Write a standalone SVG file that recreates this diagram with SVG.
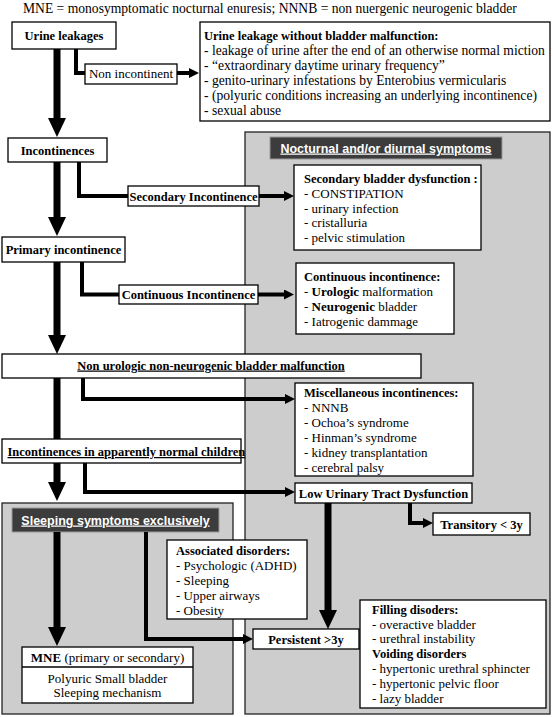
<svg xmlns="http://www.w3.org/2000/svg" width="553" height="717" viewBox="0 0 553 717">
<style>
.box{fill:#fff;stroke:#000;stroke-width:1.3}
.panel{fill:#cdcdcd;stroke:#222;stroke-width:1.3}
.hdr{fill:#3c3c3c;stroke:#999;stroke-width:1}
.b{font-family:"Liberation Serif","Times New Roman",serif;font-weight:bold;font-size:12.5px;fill:#000}
.t{font-family:"Liberation Serif","Times New Roman",serif;font-size:13px;fill:#000}
.tl{font-family:"Liberation Serif","Times New Roman",serif;font-size:13.6px;fill:#000}
.h{font-family:"Liberation Sans",Arial,sans-serif;font-weight:bold;font-size:12.5px;fill:#fff;text-decoration:underline}
.u{text-decoration:underline}
.c{text-anchor:middle}
.main{stroke:#000;stroke-width:7;fill:none}
.br{stroke:#000;stroke-width:4;fill:none;stroke-linejoin:miter}
</style>
<defs>
<marker id="big" markerUnits="userSpaceOnUse" markerWidth="19" markerHeight="18" viewBox="0 0 19 18" refX="0" refY="9" orient="auto">
<path d="M0,0 L19,9 L0,18 Z" fill="#000"/>
</marker>
<marker id="small" markerUnits="userSpaceOnUse" markerWidth="10" markerHeight="10" viewBox="0 0 10 10" refX="0" refY="5" orient="auto">
<path d="M0,0 L10,5 L0,10 Z" fill="#000"/>
</marker>
</defs>

<text class="tl" x="23" y="13">MNE = monosymptomatic nocturnal enuresis; NNNB = non nuergenic neurogenic bladder</text>

<g id="panel-nocturnal">
<rect class="panel" x="245" y="132" width="305" height="582"/>
<rect class="hdr" x="270" y="137" width="232" height="22"/>
<text class="h c" x="386" y="152.5">Nocturnal and/or diurnal symptoms</text>
</g>
<g id="panel-sleeping">
<rect class="panel" x="2" y="503" width="231" height="211"/>
<rect class="hdr" x="12" y="508" width="207" height="24"/>
<text class="h c" x="115.5" y="524.5">Sleeping symptoms exclusively</text>
</g>

<g id="connectors">
<path class="main" d="M57,49 V118" marker-end="url(#big)"/>
<path class="br" d="M76,49 V73 H86"/>
<path class="br" d="M177,73 H189" marker-end="url(#small)"/>
<path class="main" d="M57,162 V217" marker-end="url(#big)"/>
<path class="br" d="M79,162 V196 H129"/>
<path class="br" d="M259,196 H284" marker-end="url(#small)"/>
<path class="main" d="M57,262 V335" marker-end="url(#big)"/>
<path class="br" d="M82,262 V294.5 H120"/>
<path class="br" d="M258,294.5 H284" marker-end="url(#small)"/>
<path class="main" d="M57,378 V440"/>
<path class="br" d="M83,378 V399 H285" marker-end="url(#small)"/>
<path class="main" d="M57,463 V482" marker-end="url(#big)"/>
<path class="br" d="M85,463 V492 H285" marker-end="url(#small)"/>
<path class="main" d="M328,503 V610" marker-end="url(#big)"/>
<path class="br" d="M410,503 V523 H423" marker-end="url(#small)"/>
<path class="main" d="M57,532 V627" marker-end="url(#big)"/>
<path class="br" d="M146,532 V639 H243" marker-end="url(#small)"/>
</g>

<g id="urine-leakages">
<rect class="box" x="12" y="22" width="104" height="27"/>
<text class="b c" x="64" y="40">Urine leakages</text>
</g>
<g id="non-incontinent">
<rect class="box" x="85" y="64" width="92" height="20"/>
<text class="t c" x="131" y="78">Non incontinent</text>
</g>
<g id="without-malfunction">
<rect class="box" x="200" y="22" width="350" height="99"/>
<text class="b" x="204" y="40">Urine leakage without bladder malfunction:</text>
<text class="tl" x="204" y="55">- leakage of urine after the end of an otherwise normal miction</text>
<text class="tl" x="204" y="70">- “extraordinary daytime urinary frequency”</text>
<text class="tl" x="204" y="85">- genito-urinary infestations by Enterobius vermicularis</text>
<text class="tl" x="204" y="100">- (polyuric conditions increasing an underlying incontinence)</text>
<text class="tl" x="204" y="115">- sexual abuse</text>
</g>
<g id="incontinences">
<rect class="box" x="8" y="138" width="99" height="24"/>
<text class="b c" x="57.5" y="154.5">Incontinences</text>
</g>
<g id="secondary-incontinence">
<rect class="box" x="128" y="186" width="131" height="20"/>
<text class="b c" x="193.5" y="200.5">Secondary Incontinence</text>
</g>
<g id="secondary-dysfunction">
<rect class="box" x="294" y="165" width="187" height="85"/>
<text class="b" x="304" y="182.5">Secondary bladder dysfunction :</text>
<text class="t" x="304" y="197.5">- CONSTIPATION</text>
<text class="t" x="304" y="212.5">- urinary infection</text>
<text class="t" x="304" y="227">- cristalluria</text>
<text class="t" x="304" y="241.5">- pelvic stimulation</text>
</g>
<g id="primary-incontinence">
<rect class="box" x="2" y="237" width="123" height="25"/>
<text class="b c" x="63.5" y="253.5">Primary incontinence</text>
</g>
<g id="continuous-incontinence-label">
<rect class="box" x="119" y="285" width="139" height="19"/>
<text class="b c" x="188.5" y="298.5">Continuous Incontinence</text>
</g>
<g id="continuous-incontinence">
<rect class="box" x="296" y="263" width="158" height="71"/>
<text class="b" x="304" y="281">Continuous incontinence:</text>
<text class="t" x="304" y="296">- <tspan font-weight="bold">Urologic</tspan> malformation</text>
<text class="t" x="304" y="311">- <tspan font-weight="bold">Neurogenic</tspan> bladder</text>
<text class="t" x="304" y="326">- Iatrogenic dammage</text>
</g>
<g id="non-urologic">
<rect class="box" x="2" y="354" width="419" height="24"/>
<text class="b c u" x="211" y="369.5">Non urologic non-neurogenic bladder malfunction</text>
</g>
<g id="miscellaneous">
<rect class="box" x="295" y="383" width="178" height="93"/>
<text class="b" x="304" y="396.5">Miscellaneous incontinences:</text>
<text class="t" x="304" y="412">- NNNB</text>
<text class="t" x="304" y="427">- Ochoa’s syndrome</text>
<text class="t" x="304" y="442">- Hinman’s syndrome</text>
<text class="t" x="304" y="457">- kidney transplantation</text>
<text class="t" x="304" y="471.5">- cerebral palsy</text>
</g>
<g id="normal-children">
<rect class="box" x="2" y="439" width="239" height="24"/>
<text class="b u" x="7.5" y="456">Incontinences in apparently normal children</text>
</g>
<g id="lutd">
<rect class="box" x="295" y="483" width="177" height="20"/>
<text class="b c" x="383.5" y="497.5">Low Urinary Tract Dysfunction</text>
</g>
<g id="transitory">
<rect class="box" x="433" y="513" width="97" height="22"/>
<text class="b c" x="481.5" y="528.5">Transitory &lt; 3y</text>
</g>
<g id="associated">
<rect class="box" x="167" y="540" width="140" height="79"/>
<text class="b" x="176" y="555">Associated disorders:</text>
<text class="t" x="176" y="569.5">- Psychologic (ADHD)</text>
<text class="t" x="176" y="584.5">- Sleeping</text>
<text class="t" x="176" y="599.5">- Upper airways</text>
<text class="t" x="176" y="614.5">- Obesity</text>
</g>
<g id="persistent">
<rect class="box" x="253" y="629" width="106" height="20"/>
<text class="b c" x="306" y="643.5">Persistent &gt;3y</text>
</g>
<g id="filling-voiding">
<rect class="box" x="360" y="600" width="186" height="108"/>
<text class="b" x="372" y="614">Filling disoders:</text>
<text class="t" x="372" y="628.5">- overactive bladder</text>
<text class="t" x="372" y="643">- urethral instability</text>
<text class="b" x="372" y="658">Voiding disorders</text>
<text class="t" x="372" y="672.5">- hypertonic urethral sphincter</text>
<text class="t" x="372" y="687.5">- hypertonic pelvic floor</text>
<text class="t" x="372" y="702.5">- lazy bladder</text>
</g>
<g id="mne">
<rect class="box" x="22" y="647" width="171" height="56"/>
<line x1="22" y1="667" x2="193" y2="667" stroke="#000" stroke-width="1.3"/>
<text class="t c" x="107.5" y="661.5"><tspan font-weight="bold">MNE</tspan> (primary or secondary)</text>
<text class="t c" x="107.5" y="682.5">Polyuric Small bladder</text>
<text class="t c" x="107.5" y="696.5">Sleeping mechanism</text>
</g>
</svg>
